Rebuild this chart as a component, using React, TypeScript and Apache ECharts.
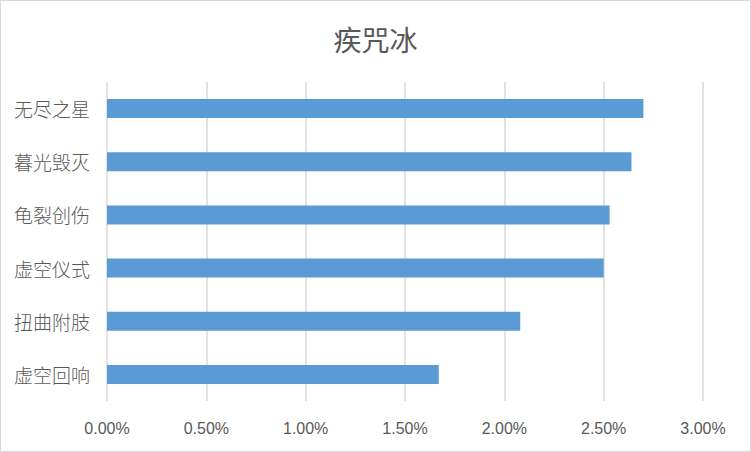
import React, { useEffect, useRef } from "react";
import * as echarts from "echarts";

const titleText = "疾咒冰";
const categories = ["无尽之星", "暮光毁灭", "龟裂创伤", "虚空仪式", "扭曲附肢", "虚空回响"];
const values = [2.70, 2.64, 2.53, 2.50, 2.08, 1.67];
const axisMax = 3;
const axisInterval = 0.5;

export default function App() {
  const ref = useRef<HTMLDivElement>(null);
  useEffect(() => {
    if (!ref.current) return;
    const chart = echarts.init(ref.current, undefined, { renderer: "svg" });
    chart.setOption({
      animation: false,
      backgroundColor: "#ffffff",
      title: {
        text: titleText,
        left: "center",
        top: 19,
        textStyle: {
          fontSize: 28,
          fontWeight: "normal",
          color: "#595959",
          fontFamily: "Noto Sans CJK SC",
        },
      },
      grid: { left: 106, right: 47, top: 81, bottom: 50, containLabel: false },
      xAxis: {
        type: "value",
        min: 0,
        max: axisMax,
        interval: axisInterval,
        axisLine: { show: false },
        axisTick: { show: false },
        splitLine: { show: true, lineStyle: { color: "#d9d9d9", width: 1.5 } },
        axisLabel: {
          formatter: (v: number) => v.toFixed(2) + "%",
          color: "#595959",
          fontSize: 16,
          margin: 19,
          fontFamily: "Liberation Sans Narrow, Liberation Sans, sans-serif",
        },
      },
      yAxis: {
        type: "category",
        data: categories,
        inverse: true,
        axisLine: { show: false },
        axisTick: { show: false },
        splitLine: { show: false },
        axisLabel: {
          color: "#595959",
          fontSize: 19,
          margin: 17,
          fontFamily: "Noto Sans CJK SC",
          fontWeight: 300,
        },
      },
      series: [
        {
          type: "bar",
          data: values,
          barWidth: 19,
          itemStyle: { color: "#5b9bd5" },
        },
      ],
    });
    return () => chart.dispose();
  }, []);
  return (
    <div
      style={{
        position: "fixed",
        left: 0,
        top: 0,
        width: 751,
        height: 452,
        boxSizing: "border-box",
        border: "1px solid #d9d9d9",
        background: "#fff",
      }}
    >
      <div ref={ref} style={{ width: "100%", height: "100%" }} />
    </div>
  );
}
